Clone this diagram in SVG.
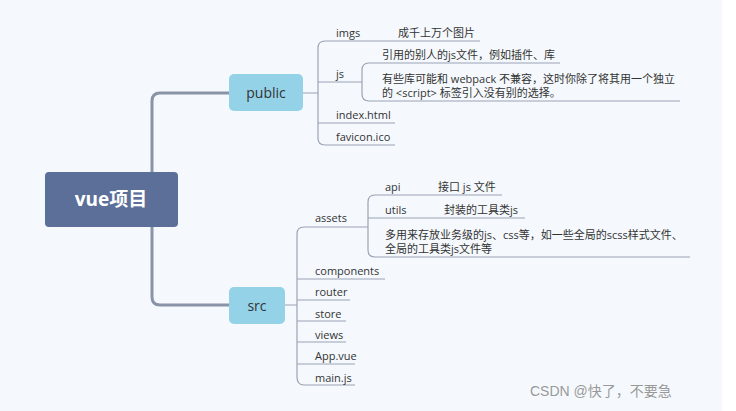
<svg xmlns="http://www.w3.org/2000/svg" width="736" height="411" viewBox="0 0 736 411">
<style>
text{font-family:"Open Sans","Noto Sans CJK SC",sans-serif;font-size:11px;fill:#333}
.l{fill:none;stroke:#9aa3b5;stroke-width:1.2}
.t{fill:none;stroke:#8a94a8;stroke-width:3}
</style>
<rect width="736" height="411" fill="#f5f9fd"/>
<rect x="722" y="0" width="14" height="411" fill="#fff"/>
<g id="connectors">
<path class="t" d="M152 172 V101 Q152 93 160 93 H229"/>
<path class="t" d="M152 227 V297 Q152 305 160 305 H229"/>
<path class="l" d="M303 93 H318 M318 48 Q318 41 325 41 H480 M318 138 Q318 145 325 145 H395 M318 48 V138 M318 82 H362 M318 123 H395"/>
<path class="l" d="M362 70 Q362 63 369 63 H560 M362 94 Q362 101 369 101 H680 M362 70 V94"/>
<path class="l" d="M285 305 H297 M297 234 Q297 227 304 227 H368 M297 377 Q297 385 304 385 H355 M297 234 V377 M297 279 H385 M297 300 H350 M297 321 H346 M297 342 H346 M297 364 H355"/>
<path class="l" d="M368 202 Q368 195 375 195 H502 M368 250 Q368 257 375 257 H690 M368 202 V250 M368 218 H525"/>
</g>
<g id="root"><rect x="45" y="172" width="133" height="55" rx="4" fill="#5b6f98"/><text x="111" y="206" text-anchor="middle" style="font-size:19px;font-weight:bold;fill:#fff">vue项目</text></g>
<g id="public"><rect x="229" y="74" width="74" height="37" rx="5" fill="#94d2e8"/><text x="266" y="98" text-anchor="middle" style="font-size:14px">public</text></g>
<g id="src"><rect x="229" y="287" width="56" height="37" rx="5" fill="#94d2e8"/><text x="257" y="311" text-anchor="middle" style="font-size:14px">src</text></g>
<g id="imgs"><text x="336" y="37">imgs</text><text x="398" y="37">成千上万个图片</text></g>
<g id="js"><text x="336" y="78">js</text><text x="382" y="59">引用的别人的js文件，例如插件、库</text><text x="382" y="83">有些库可能和 webpack 不兼容，这时你除了将其用一个独立</text><text x="382" y="97">的 &lt;script&gt; 标签引入没有别的选择。</text></g>
<g id="index"><text x="336" y="119">index.html</text></g>
<g id="favicon"><text x="336" y="141">favicon.ico</text></g>
<g id="assets"><text x="315" y="222">assets</text><text x="385" y="191">api</text><text x="438" y="191">接口 js 文件</text><text x="385" y="214">utils</text><text x="444" y="214">封装的工具类js</text><text x="385" y="239">多用来存放业务级的js、css等，如一些全局的scss样式文件、</text><text x="385" y="253">全局的工具类js文件等</text></g>
<g id="components"><text x="315" y="275">components</text></g>
<g id="router"><text x="315" y="296">router</text></g>
<g id="store"><text x="315" y="318">store</text></g>
<g id="views"><text x="315" y="339">views</text></g>
<g id="app"><text x="315" y="360">App.vue</text></g>
<g id="main"><text x="315" y="382">main.js</text></g>
<text x="530" y="396" style="font-family:'Liberation Sans','Noto Sans CJK SC',sans-serif;font-size:14px;fill:#999">CSDN @快了，不要急</text>
</svg>
